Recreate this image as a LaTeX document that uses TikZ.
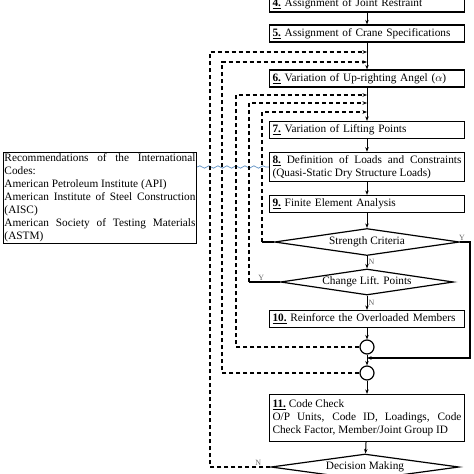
\documentclass[tikz,border=0pt]{standalone}
\usepackage{fontspec}
\setmainfont{Liberation Serif}
\usetikzlibrary{shapes,arrows,positioning,calc,decorations.pathmorphing,arrows.meta}
\definecolor{wavecol}{RGB}{95,145,195}

\begin{document}
\begin{tikzpicture}[x=1pt,y=-1pt,
    stepbox/.style={draw, line width=1.2pt, text width=189pt, inner sep=3pt, minimum height=17pt, align=left, font=\fontsize{11.3}{13}\selectfont},
    testbox/.style={draw, diamond, line width=1.2pt, inner sep=0pt, aspect=7, font=\fontsize{11.3}{13}\selectfont},
    joint/.style={draw, circle, line width=1.2pt, minimum size=14pt, inner sep=0pt},
    flow/.style={line width=1pt, -{Stealth[length=4.5pt,width=3.5pt]}},
    back/.style={line width=1.2pt, dash pattern=on 4pt off 3pt, -{Stealth[length=4.5pt,width=3.5pt]}},
    yn/.style={font=\fontsize{8}{9}\selectfont, text=black!60, inner sep=1pt}]
    \useasboundingbox (0,0) rectangle (474,474);
    \clip (0,0) rectangle (474,474);

    % Steps
    \node[stepbox] (s4) at (367,3.5) {\underline{\textbf{4.}} Assignment of Joint Restraint};
    \node[stepbox] (s5) at (367,33.5) {\underline{\textbf{5.}} Assignment of Crane Specifications};
    \node[stepbox] (s6) at (367,78.5) {\underline{\textbf{6.}} Variation of Up-righting Angel ($\alpha$)};
    \node[stepbox] (s7) at (367,130) {\underline{\textbf{7.}} Variation of Lifting Points};
    \node[stepbox, align=justify] (s8) at (367,167) {\underline{\textbf{8.}} Definition of Loads and Constraints\linebreak (Quasi-Static Dry Structure Loads)};
    \node[stepbox] (s9) at (367,204) {\underline{\textbf{9.}} Finite Element Analysis};
    \node[testbox, minimum width=185pt, minimum height=27pt] (strength) at (367,242) {Strength Criteria};
    \node[testbox, minimum width=173pt, minimum height=26pt] (lift) at (367,282) {Change Lift. Points};
    \node[stepbox] (s10) at (367,319) {\underline{\textbf{10.}} Reinforce the Overloaded Members};
    \node[joint] (j1) at (367,347) {};
    \node[joint] (j2) at (367,373) {};
    \node[stepbox, align=justify, minimum height=47pt] (s11) at (367,418) {\underline{\textbf{11.}} Code Check\\ O/P Units, Code ID, Loadings, Code\linebreak Check Factor, Member/Joint Group ID};
    \node[testbox, minimum width=188pt, minimum height=26pt] (decide) at (365,467) {Decision Making};

    % Codes
    \node[draw, line width=1.2pt, text width=191pt, inner sep=1pt, align=justify, font=\fontsize{11.3}{13}\selectfont] (codes) at (100,198) {Recommendations of the International\linebreak Codes:\\ American Petroleum Institute (API)\\ American Institute of Steel Construction\linebreak (AISC)\\ American Society of Testing Materials\linebreak (ASTM)};
    \draw[wavecol, line width=0.7pt, decorate, decoration={snake, amplitude=1.2pt, segment length=9pt}] (codes.east |- s8.west) -- (s8.west);

    % Main flow
    \draw[flow] (s4) -- (s5);
    \draw[flow] (s5) -- (s6);
    \draw[flow] (s6) -- (s7);
    \draw[flow] (s7) -- (s8);
    \draw[flow] (s8) -- (s9);
    \draw[flow] (s9) -- (strength);
    \draw[flow] (strength) -- node[yn, right] {N} (lift);
    \draw[flow] (lift) -- node[yn, right] {N} (s10);
    \draw[flow] (s10) -- (j1);
    \draw[flow] (j1) -- (j2);
    \draw[flow] (j2) -- (s11);
    \draw[flow] (s11) -- (decide);

    % Feedback loops
    \coordinate (colA) at (210,0);
    \coordinate (colB) at (222,0);
    \coordinate (colC) at (236,0);
    \coordinate (colD) at (249,0);
    \coordinate (colE) at (262,0);
    \coordinate (colR) at (470,0);
    \coordinate (inA) at (367,52);
    \coordinate (inB) at (367,62);
    \coordinate (inC) at (367,95);
    \coordinate (inD) at (367,103);
    \coordinate (inE) at (367,112);
    \coordinate (inR) at (367,358);

    \draw[line width=1.1pt] (strength.west) -- (strength.west -| colE);
    \draw[back] (strength.west -| colE) -- (colE |- inE) -- (inE);
    \draw[line width=1.1pt] (lift.west) -- node[yn, above, pos=0.6] {Y} (lift.west -| colD);
    \draw[back] (lift.west -| colD) -- (colD |- inD) -- (inD);
    \draw[back] (j1.west) -- (j1.west -| colC) -- (colC |- inC) -- (inC);
    \draw[back] (j2.west) -- (j2.west -| colB) -- (colB |- inB) -- (inB);
    \draw[back] (decide.west) -- node[yn, above, pos=0.2] {N} (decide.west -| colA) -- (colA |- inA) -- (inA);
    \draw[flow, line width=1.2pt] (strength.east) -- node[yn, above, pos=0.2] {Y} (strength.east -| colR) -- (colR |- inR) -- (inR);
\end{tikzpicture}
\end{document}
